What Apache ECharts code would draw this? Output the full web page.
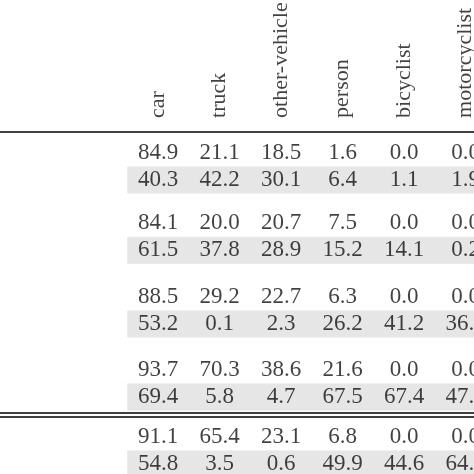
<!DOCTYPE html>
<html><head><meta charset="utf-8">
<script src="https://cdn.jsdelivr.net/npm/echarts@6/dist/echarts.min.js"></script>
<style>html,body{margin:0;padding:0;background:#fff}#c{width:474px;height:474px}</style>
</head><body><div id="c"></div>
<script>
const columns = ['car','truck','other-vehicle','person','bicyclist','motorcyclist'];
const methods = ['Conv [41]','et53Seg [4]','enceNet [37]','w [43]',''];
const headerLeft = 'ch';
const groupPos = [0, 2.6, 5.33, 8.04, 10.52];
const topRows = [
  [84.9,21.1,18.5,1.6,0.0,0.0],
  [84.1,20.0,20.7,7.5,0.0,0.0],
  [88.5,29.2,22.7,6.3,0.0,0.0],
  [93.7,70.3,38.6,21.6,0.0,0.0],
  [91.1,65.4,23.1,6.8,0.0,0.0]
];
const bottomRows = [
  [40.3,42.2,30.1,6.4,1.1,1.9],
  [61.5,37.8,28.9,15.2,14.1,0.2],
  [53.2,0.1,2.3,26.2,41.2,36.0],
  [69.4,5.8,4.7,67.5,67.4,47.0],
  [54.8,3.5,0.6,49.9,44.6,64.0]
];
const font = '"Liberation Serif", "DejaVu Serif", serif';
const cells = [];
topRows.forEach((r,g)=>r.forEach((v,k)=>cells.push({value:[k,groupPos[g]],txt:v.toFixed(1)})));
bottomRows.forEach((r,g)=>r.forEach((v,k)=>cells.push({value:[k,groupPos[g]+1],txt:v.toFixed(1)})));
const heads = columns.map((c,k)=>({value:[k,-1.3],txt:c}));
const meth = methods.map((m,g)=>({value:[-2.58,groupPos[g]+0.5],txt:m}));
meth.push({value:[-2.58,-1.5],txt:headerLeft});
const bands = groupPos.map(p=>[p+1]);
const chart = echarts.init(document.getElementById('c'));
chart.setOption({
  animation:false,
  grid:{left:0,top:0,width:474,height:474},
  xAxis:{type:'value',min:-2.569,max:5.138,show:false},
  yAxis:{type:'value',inverse:true,min:-5.667,max:11.889,show:false},
  series:[
    {type:'custom',data:bands,z:1,
     renderItem:(params,api)=>{
       const y=api.value(0);
       const p0=api.coord([-0.5,y-0.5]);const p1=api.coord([5.138,y+0.5]);
       return {type:'rect',shape:{x:p0[0],y:p0[1],width:p1[0]-p0[0],height:p1[1]-p0[1]},style:{fill:'#e6e6e6'}};
     },
     markLine:{silent:true,symbol:'none',label:{show:false},
       lineStyle:{color:'#000',type:'solid',width:1.5},
       data:[{yAxis:-0.78},{yAxis:9.63},{yAxis:9.78}]}},
    {type:'scatter',symbolSize:0,z:3,data:cells,
     label:{show:true,position:'inside',formatter:p=>p.data.txt,fontFamily:font,fontSize:23,color:'#111'}},
    {type:'scatter',symbolSize:0,z:3,data:heads,
     label:{show:true,position:'inside',rotate:90,align:'left',verticalAlign:'middle',formatter:p=>p.data.txt,fontFamily:font,fontSize:22,color:'#111'}},
    {type:'scatter',symbolSize:0,z:3,data:meth,
     label:{show:true,position:'inside',align:'left',verticalAlign:'middle',formatter:p=>p.data.txt,fontFamily:font,fontSize:23,color:'#111'}}
  ]
});
</script></body></html>
